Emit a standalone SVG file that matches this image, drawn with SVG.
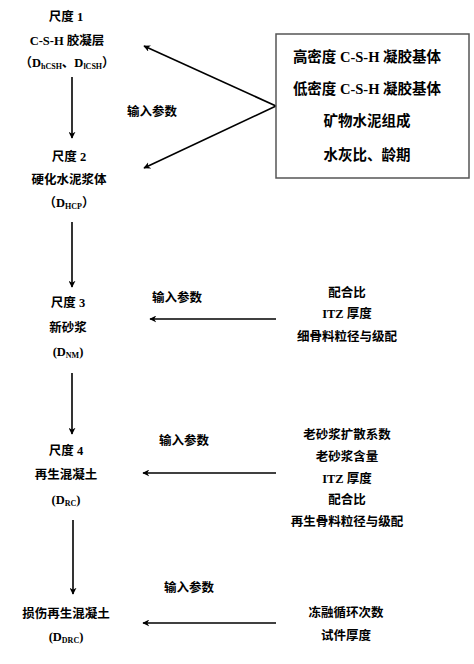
<svg xmlns="http://www.w3.org/2000/svg" width="474" height="664" viewBox="0 0 474 664">
<defs>
<style>
text{font-family:"Liberation Serif","Noto Sans CJK SC",serif;font-weight:bold;fill:#000;text-anchor:middle}
.n{font-size:12.5px}
.b{font-size:14.5px}
.s{font-size:8px}
.c{stroke:#000;stroke-width:1.6;fill:none}
</style>
<marker id="ah" viewBox="0 0 10 10" refX="9" refY="5" markerWidth="7" markerHeight="7" orient="auto" markerUnits="userSpaceOnUse">
<path d="M0,0 L10,5 L0,10 L3,5 Z" fill="#000"/>
</marker>
</defs>
<rect width="474" height="664" fill="#fff"/>
<g id="connectors">
<line class="c" x1="72" y1="77" x2="72" y2="138" marker-end="url(#ah)"/>
<line class="c" x1="72" y1="222" x2="72" y2="287" marker-end="url(#ah)"/>
<line class="c" x1="72" y1="373" x2="72" y2="434" marker-end="url(#ah)"/>
<line class="c" x1="73" y1="520" x2="73" y2="594" marker-end="url(#ah)"/>
<line class="c" x1="276" y1="106" x2="144" y2="46" marker-end="url(#ah)"/>
<line class="c" x1="276" y1="106" x2="144" y2="168" marker-end="url(#ah)"/>
<line class="c" x1="276" y1="319" x2="150" y2="319" marker-end="url(#ah)"/>
<line class="c" x1="276" y1="473" x2="143" y2="473" marker-end="url(#ah)"/>
<line class="c" x1="276" y1="623" x2="143" y2="623" marker-end="url(#ah)"/>
<text class="n" x="152" y="116">输入参数</text>
<text class="n" x="177" y="302">输入参数</text>
<text class="n" x="184" y="445">输入参数</text>
<text class="n" x="189" y="592">输入参数</text>
</g>
<g id="scale1">
<text class="n" x="66" y="21">尺度 1</text>
<text class="n" x="67" y="45">C-S-H 胶凝层</text>
<text class="n" x="67" y="67">（D<tspan class="s" dy="2">hCSH</tspan><tspan dy="-2">、D</tspan><tspan class="s" dy="2">lCSH</tspan><tspan dy="-2">）</tspan></text>
</g>
<g id="scale2">
<text class="n" x="69" y="161">尺度 2</text>
<text class="n" x="69" y="184">硬化水泥浆体</text>
<text class="n" x="69" y="207">（D<tspan class="s" dy="2">HCP</tspan><tspan dy="-2">）</tspan></text>
</g>
<g id="scale3">
<text class="n" x="68" y="307">尺度 3</text>
<text class="n" x="68" y="332">新砂浆</text>
<text class="n" x="68" y="356">(D<tspan class="s" dy="2">NM</tspan><tspan dy="-2">)</tspan></text>
</g>
<g id="scale4">
<text class="n" x="66" y="455">尺度 4</text>
<text class="n" x="66" y="479">再生混凝土</text>
<text class="n" x="66" y="504">(D<tspan class="s" dy="2">RC</tspan><tspan dy="-2">)</tspan></text>
</g>
<g id="scale5">
<text class="n" x="66" y="618">损伤再生混凝土</text>
<text class="n" x="66" y="641">(D<tspan class="s" dy="2">DRC</tspan><tspan dy="-2">)</tspan></text>
</g>
<g id="params1">
<rect x="276" y="34" width="193" height="144" fill="none" stroke="#555" stroke-width="1.5"/>
<text class="b" x="367" y="62">高密度 C-S-H 凝胶基体</text>
<text class="b" x="367" y="94">低密度 C-S-H 凝胶基体</text>
<text class="b" x="367" y="126">矿物水泥组成</text>
<text class="b" x="367" y="160">水灰比、龄期</text>
</g>
<g id="params3">
<text class="n" x="347" y="297">配合比</text>
<text class="n" x="347" y="318">ITZ 厚度</text>
<text class="n" x="347" y="341">细骨料粒径与级配</text>
</g>
<g id="params4">
<text class="n" x="347" y="439">老砂浆扩散系数</text>
<text class="n" x="347" y="461">老砂浆含量</text>
<text class="n" x="347" y="483">ITZ 厚度</text>
<text class="n" x="347" y="504">配合比</text>
<text class="n" x="347" y="526">再生骨料粒径与级配</text>
</g>
<g id="params5">
<text class="n" x="346" y="617">冻融循环次数</text>
<text class="n" x="346" y="640">试件厚度</text>
</g>
</svg>
